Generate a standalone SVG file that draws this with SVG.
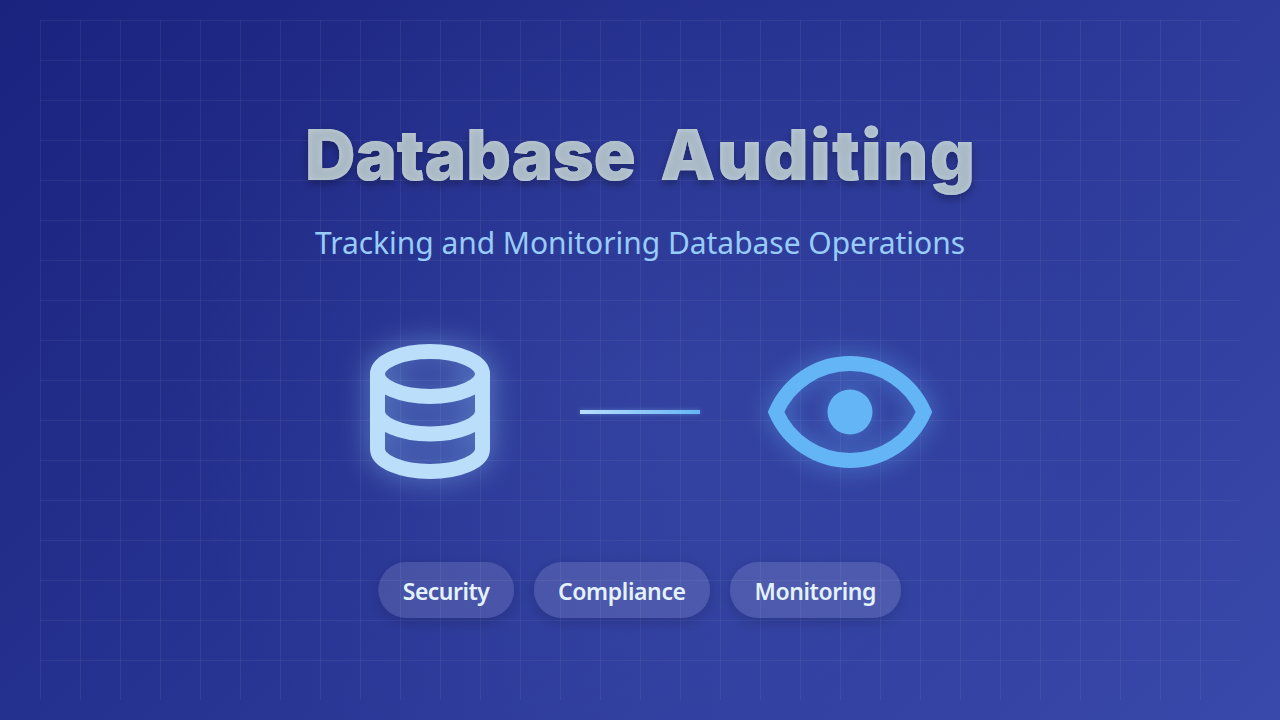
<svg xmlns="http://www.w3.org/2000/svg" width="1280" height="720" viewBox="0 0 1280 720">
<style>
.pill{fill:#fff}
.pillt{font-family:"Noto Sans","Open Sans",sans-serif;font-size:23px;font-weight:600;fill:#e3f2fd;text-anchor:middle}
</style>
<defs>
<linearGradient id="bg" gradientUnits="userSpaceOnUse" x1="140" y1="-140" x2="1140" y2="860"><stop offset="0" stop-color="#1a237e"/><stop offset="1" stop-color="#3949ab"/></linearGradient>
<radialGradient id="glow" gradientUnits="userSpaceOnUse" cx="640" cy="400" r="460"><stop offset="0" stop-color="#7f9cff" stop-opacity=".1"/><stop offset="1" stop-color="#7f9cff" stop-opacity="0"/></radialGradient>
<linearGradient id="tg" gradientUnits="userSpaceOnUse" x1="305" y1="125" x2="975" y2="185"><stop offset="0" stop-color="#c4ced4"/><stop offset="1" stop-color="#bdd0e0"/></linearGradient>
<linearGradient id="lg" gradientUnits="userSpaceOnUse" x1="580" y1="0" x2="700" y2="0"><stop offset="0" stop-color="#bbdefb"/><stop offset="1" stop-color="#64b5f6"/></linearGradient>
<pattern id="grid" patternUnits="userSpaceOnUse" x="40" y="20" width="40" height="40"><path d="M0 .5H40M.5 0V40" fill="none" stroke="#fff" stroke-opacity=".055"/></pattern>
<filter id="ts" x="-10%" y="-30%" width="120%" height="170%">
<feGaussianBlur in="SourceAlpha" stdDeviation="3" result="ib"/>
<feFlood flood-color="#a9b9c5"/><feComposite in2="ib" operator="in"/><feComposite in2="SourceAlpha" operator="in" result="core"/>
<feOffset in="SourceAlpha" dy="4" result="so"/><feGaussianBlur in="so" stdDeviation="4" result="sb"/>
<feFlood flood-color="#000" flood-opacity=".3"/><feComposite in2="sb" operator="in" result="sh"/>
<feMerge><feMergeNode in="sh"/><feMergeNode in="SourceGraphic"/><feMergeNode in="core"/></feMerge>
</filter>
<filter id="g1" x="-40%" y="-40%" width="180%" height="180%"><feDropShadow dx="0" dy="0" stdDeviation="14" flood-color="#90caf9" flood-opacity=".55"/></filter>
<filter id="g2" x="-40%" y="-40%" width="180%" height="180%"><feDropShadow dx="0" dy="0" stdDeviation="12" flood-color="#64b5f6" flood-opacity=".5"/></filter>
<filter id="g3" x="-10%" y="-300%" width="120%" height="700%"><feDropShadow dx="0" dy="0" stdDeviation="2" flood-color="#90caf9" flood-opacity=".35"/></filter>
<filter id="ps" x="-20%" y="-50%" width="140%" height="220%">
<feOffset in="SourceAlpha" dy="4" result="o"/><feGaussianBlur in="o" stdDeviation="7" result="b"/>
<feFlood flood-color="#000" flood-opacity=".16"/><feComposite in2="b" operator="in"/><feComposite in2="SourceAlpha" operator="out" result="sh"/>
<feFlood flood-color="#fff" flood-opacity=".125"/><feComposite in2="SourceAlpha" operator="in" result="f"/>
<feMerge><feMergeNode in="sh"/><feMergeNode in="f"/></feMerge>
</filter>
</defs>
<rect id="background" width="1280" height="720" fill="url(#bg)"/>
<rect id="background-glow" width="1280" height="720" fill="url(#glow)"/>
<rect id="gridlines" x="40" y="20" width="1200" height="680" fill="url(#grid)"/>
<g id="title"><text y="180" font-family="Inter,'Noto Sans',sans-serif" font-size="70" font-weight="900" fill="url(#tg)" filter="url(#ts)"><tspan x="305" textLength="331" lengthAdjust="spacing">Database</tspan> <tspan x="660" textLength="315" lengthAdjust="spacing">Auditing</tspan></text></g>
<g id="subtitle"><text x="640" y="253.500" text-anchor="middle" font-family="'Noto Sans','Open Sans',sans-serif" font-size="30" fill="#98ccf9" textLength="650" lengthAdjust="spacing">Tracking and Monitoring Database Operations</text></g>
<g id="database" fill="none" stroke="#bbdefb" stroke-width="15" stroke-linecap="round" stroke-linejoin="round" filter="url(#g1)">
<ellipse cx="430" cy="374" rx="52.5" ry="22.5"/>
<path d="M377.5 374V449A52.5 22.5 0 0 0 482.5 449V374"/>
<path d="M377.5 411.5A52.5 22.5 0 0 0 482.5 411.5"/>
</g>
<g id="connectors"><rect x="580" y="410" width="120" height="4" fill="url(#lg)" filter="url(#g3)"/></g>
<g id="eye" filter="url(#g2)">
<path d="M776 412A80.7 80.7 0 0 1 924 412A80.7 80.7 0 0 1 776 412Z" fill="none" stroke="#64b5f6" stroke-width="15" stroke-linejoin="miter"/>
<circle cx="850" cy="412" r="22.5" fill="#64b5f6"/>
</g>
<g id="pill-security"><rect class="pill" x="378.500" y="562" width="135.500" height="56" rx="28" filter="url(#ps)"/><text class="pillt" x="446.300" y="600" textLength="87" lengthAdjust="spacing">Security</text></g>
<g id="pill-compliance"><rect class="pill" x="534" y="562" width="176" height="56" rx="28" filter="url(#ps)"/><text class="pillt" x="622" y="600" textLength="128" lengthAdjust="spacing">Compliance</text></g>
<g id="pill-monitoring"><rect class="pill" x="730" y="562" width="171" height="56" rx="28" filter="url(#ps)"/><text class="pillt" x="815.500" y="600" textLength="122" lengthAdjust="spacing">Monitoring</text></g>
</svg>
